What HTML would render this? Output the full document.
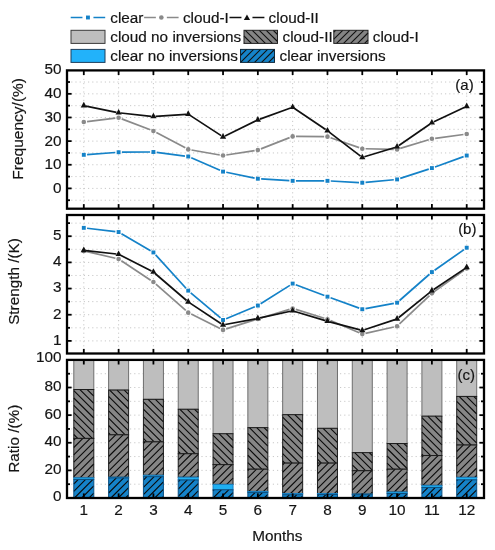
<!DOCTYPE html>
<html><head><meta charset="utf-8"><title>Monthly inversions</title>
<style>html,body{margin:0;padding:0;background:#fff}body{width:495px;height:550px;overflow:hidden}svg{display:block}</style>
</head><body>
<svg width="495" height="550" viewBox="0 0 495 550" font-family="Liberation Sans, Arial, sans-serif">
<rect width="495" height="550" fill="#fff"/>
<g stroke="#c9c9c9" stroke-width="1" stroke-dasharray="1.2 3.0" fill="none"><line x1="83.80" y1="70.4" x2="83.80" y2="208.7"/><line x1="118.61" y1="70.4" x2="118.61" y2="208.7"/><line x1="153.42" y1="70.4" x2="153.42" y2="208.7"/><line x1="188.23" y1="70.4" x2="188.23" y2="208.7"/><line x1="223.04" y1="70.4" x2="223.04" y2="208.7"/><line x1="257.85" y1="70.4" x2="257.85" y2="208.7"/><line x1="292.66" y1="70.4" x2="292.66" y2="208.7"/><line x1="327.47" y1="70.4" x2="327.47" y2="208.7"/><line x1="362.28" y1="70.4" x2="362.28" y2="208.7"/><line x1="397.09" y1="70.4" x2="397.09" y2="208.7"/><line x1="431.90" y1="70.4" x2="431.90" y2="208.7"/><line x1="466.71" y1="70.4" x2="466.71" y2="208.7"/><line x1="67.0" y1="200.22" x2="484.0" y2="200.22"/><line x1="67.0" y1="188.40" x2="484.0" y2="188.40"/><line x1="67.0" y1="176.58" x2="484.0" y2="176.58"/><line x1="67.0" y1="164.76" x2="484.0" y2="164.76"/><line x1="67.0" y1="152.94" x2="484.0" y2="152.94"/><line x1="67.0" y1="141.12" x2="484.0" y2="141.12"/><line x1="67.0" y1="129.30" x2="484.0" y2="129.30"/><line x1="67.0" y1="117.48" x2="484.0" y2="117.48"/><line x1="67.0" y1="105.66" x2="484.0" y2="105.66"/><line x1="67.0" y1="93.84" x2="484.0" y2="93.84"/><line x1="67.0" y1="82.02" x2="484.0" y2="82.02"/></g>
<path d="M87.08 121.57L115.33 118.12M121.69 118.89L150.34 129.78M156.34 132.50L185.31 147.85M191.48 149.97L219.79 154.97M226.30 155.03L254.59 150.61M260.92 148.89L289.59 137.60M295.96 136.41L324.17 136.61M330.59 137.71L359.16 147.60M365.58 148.75L393.79 149.33M400.25 148.43L428.74 139.72M435.17 138.31L463.44 134.47" stroke="#8a8a8a" stroke-width="1.7" fill="none"/>
<g fill="#8a8a8a"><circle cx="83.80" cy="121.97" r="2.3"/><circle cx="118.61" cy="117.72" r="2.3"/><circle cx="153.42" cy="130.95" r="2.3"/><circle cx="188.23" cy="149.39" r="2.3"/><circle cx="223.04" cy="155.54" r="2.3"/><circle cx="257.85" cy="150.10" r="2.3"/><circle cx="292.66" cy="136.39" r="2.3"/><circle cx="327.47" cy="136.63" r="2.3"/><circle cx="362.28" cy="148.68" r="2.3"/><circle cx="397.09" cy="149.39" r="2.3"/><circle cx="431.90" cy="138.76" r="2.3"/><circle cx="466.71" cy="134.03" r="2.3"/></g>
<path d="M87.09 154.59L115.32 152.48M121.91 152.21L150.12 152.02M156.69 152.42L184.96 156.06M191.26 157.80L220.01 170.30M226.27 172.27L254.62 178.05M261.14 178.91L289.37 180.63M295.96 180.84L324.17 180.84M330.77 181.01L358.98 182.55M365.57 182.41L393.80 179.73M400.23 178.39L428.76 169.09M435.00 166.95L463.61 156.66" stroke="#1482c8" stroke-width="1.7" fill="none"/>
<g fill="#1482c8"><rect x="81.85" y="152.88" width="3.9" height="3.9"/><rect x="116.66" y="150.28" width="3.9" height="3.9"/><rect x="151.47" y="150.04" width="3.9" height="3.9"/><rect x="186.28" y="154.54" width="3.9" height="3.9"/><rect x="221.09" y="169.67" width="3.9" height="3.9"/><rect x="255.90" y="176.76" width="3.9" height="3.9"/><rect x="290.71" y="178.89" width="3.9" height="3.9"/><rect x="325.52" y="178.89" width="3.9" height="3.9"/><rect x="360.33" y="180.78" width="3.9" height="3.9"/><rect x="395.14" y="177.47" width="3.9" height="3.9"/><rect x="429.95" y="166.12" width="3.9" height="3.9"/><rect x="464.76" y="153.59" width="3.9" height="3.9"/></g>
<path d="M85.96 106.10L116.45 112.31M120.80 112.99L151.23 116.30M155.61 116.39L186.04 114.32M190.07 115.37L221.20 135.66M225.02 135.90L255.87 120.81M259.92 119.10L290.59 108.06M294.49 108.54L325.64 129.49M329.22 132.06L360.53 156.09M364.38 156.79L394.99 147.44M398.90 145.54L430.09 123.93M433.89 121.75L464.72 107.30" stroke="#111" stroke-width="1.7" fill="none"/>
<g fill="#111"><path d="M83.80 101.86L86.90 107.46L80.70 107.46Z"/><path d="M118.61 108.95L121.71 114.55L115.51 114.55Z"/><path d="M153.42 112.73L156.52 118.33L150.32 118.33Z"/><path d="M188.23 110.37L191.33 115.97L185.13 115.97Z"/><path d="M223.04 133.06L226.14 138.66L219.94 138.66Z"/><path d="M257.85 116.04L260.95 121.64L254.75 121.64Z"/><path d="M292.66 103.51L295.76 109.11L289.56 109.11Z"/><path d="M327.47 126.92L330.57 132.52L324.37 132.52Z"/><path d="M362.28 153.63L365.38 159.23L359.18 159.23Z"/><path d="M397.09 142.99L400.19 148.59L393.99 148.59Z"/><path d="M431.90 118.88L435.00 124.48L428.80 124.48Z"/><path d="M466.71 102.57L469.81 108.17L463.61 108.17Z"/></g>
<g stroke="#000" stroke-width="1.8" fill="none"><line x1="67.0" y1="188.40" x2="71.6" y2="188.40"/><line x1="484.0" y1="188.40" x2="479.4" y2="188.40"/><line x1="67.0" y1="164.76" x2="71.6" y2="164.76"/><line x1="484.0" y1="164.76" x2="479.4" y2="164.76"/><line x1="67.0" y1="141.12" x2="71.6" y2="141.12"/><line x1="484.0" y1="141.12" x2="479.4" y2="141.12"/><line x1="67.0" y1="117.48" x2="71.6" y2="117.48"/><line x1="484.0" y1="117.48" x2="479.4" y2="117.48"/><line x1="67.0" y1="93.84" x2="71.6" y2="93.84"/><line x1="484.0" y1="93.84" x2="479.4" y2="93.84"/><line x1="67.0" y1="200.22" x2="70.0" y2="200.22"/><line x1="484.0" y1="200.22" x2="481.0" y2="200.22"/><line x1="67.0" y1="176.58" x2="70.0" y2="176.58"/><line x1="484.0" y1="176.58" x2="481.0" y2="176.58"/><line x1="67.0" y1="152.94" x2="70.0" y2="152.94"/><line x1="484.0" y1="152.94" x2="481.0" y2="152.94"/><line x1="67.0" y1="129.30" x2="70.0" y2="129.30"/><line x1="484.0" y1="129.30" x2="481.0" y2="129.30"/><line x1="67.0" y1="105.66" x2="70.0" y2="105.66"/><line x1="484.0" y1="105.66" x2="481.0" y2="105.66"/><line x1="67.0" y1="82.02" x2="70.0" y2="82.02"/><line x1="484.0" y1="82.02" x2="481.0" y2="82.02"/><line x1="83.80" y1="70.4" x2="83.80" y2="75.0"/><line x1="83.80" y1="208.7" x2="83.80" y2="204.1"/><line x1="118.61" y1="70.4" x2="118.61" y2="75.0"/><line x1="118.61" y1="208.7" x2="118.61" y2="204.1"/><line x1="153.42" y1="70.4" x2="153.42" y2="75.0"/><line x1="153.42" y1="208.7" x2="153.42" y2="204.1"/><line x1="188.23" y1="70.4" x2="188.23" y2="75.0"/><line x1="188.23" y1="208.7" x2="188.23" y2="204.1"/><line x1="223.04" y1="70.4" x2="223.04" y2="75.0"/><line x1="223.04" y1="208.7" x2="223.04" y2="204.1"/><line x1="257.85" y1="70.4" x2="257.85" y2="75.0"/><line x1="257.85" y1="208.7" x2="257.85" y2="204.1"/><line x1="292.66" y1="70.4" x2="292.66" y2="75.0"/><line x1="292.66" y1="208.7" x2="292.66" y2="204.1"/><line x1="327.47" y1="70.4" x2="327.47" y2="75.0"/><line x1="327.47" y1="208.7" x2="327.47" y2="204.1"/><line x1="362.28" y1="70.4" x2="362.28" y2="75.0"/><line x1="362.28" y1="208.7" x2="362.28" y2="204.1"/><line x1="397.09" y1="70.4" x2="397.09" y2="75.0"/><line x1="397.09" y1="208.7" x2="397.09" y2="204.1"/><line x1="431.90" y1="70.4" x2="431.90" y2="75.0"/><line x1="431.90" y1="208.7" x2="431.90" y2="204.1"/><line x1="466.71" y1="70.4" x2="466.71" y2="75.0"/><line x1="466.71" y1="208.7" x2="466.71" y2="204.1"/></g>
<rect x="67.0" y="70.4" width="417.0" height="138.29999999999998" fill="none" stroke="#000" stroke-width="2.3"/>
<g stroke="#c9c9c9" stroke-width="1" stroke-dasharray="1.2 3.0" fill="none"><line x1="83.80" y1="215.0" x2="83.80" y2="353.5"/><line x1="118.61" y1="215.0" x2="118.61" y2="353.5"/><line x1="153.42" y1="215.0" x2="153.42" y2="353.5"/><line x1="188.23" y1="215.0" x2="188.23" y2="353.5"/><line x1="223.04" y1="215.0" x2="223.04" y2="353.5"/><line x1="257.85" y1="215.0" x2="257.85" y2="353.5"/><line x1="292.66" y1="215.0" x2="292.66" y2="353.5"/><line x1="327.47" y1="215.0" x2="327.47" y2="353.5"/><line x1="362.28" y1="215.0" x2="362.28" y2="353.5"/><line x1="397.09" y1="215.0" x2="397.09" y2="353.5"/><line x1="431.90" y1="215.0" x2="431.90" y2="353.5"/><line x1="466.71" y1="215.0" x2="466.71" y2="353.5"/><line x1="67.0" y1="340.90" x2="484.0" y2="340.90"/><line x1="67.0" y1="327.81" x2="484.0" y2="327.81"/><line x1="67.0" y1="314.73" x2="484.0" y2="314.73"/><line x1="67.0" y1="301.64" x2="484.0" y2="301.64"/><line x1="67.0" y1="288.56" x2="484.0" y2="288.56"/><line x1="67.0" y1="275.47" x2="484.0" y2="275.47"/><line x1="67.0" y1="262.39" x2="484.0" y2="262.39"/><line x1="67.0" y1="249.30" x2="484.0" y2="249.30"/><line x1="67.0" y1="236.22" x2="484.0" y2="236.22"/><line x1="67.0" y1="223.13" x2="484.0" y2="223.13"/></g>
<path d="M87.01 251.62L115.40 258.24M121.36 260.81L150.67 280.20M155.90 284.20L185.75 310.46M191.19 314.10L220.08 328.44M226.19 328.91L254.70 319.91M261.01 317.97L289.50 309.40M295.81 309.42L324.32 318.21M330.50 320.48L359.25 332.80M365.50 333.37L393.87 326.97M399.49 323.98L429.50 295.54M434.59 291.35L464.02 270.33" stroke="#8a8a8a" stroke-width="1.7" fill="none"/>
<g fill="#8a8a8a"><circle cx="83.80" cy="250.88" r="2.3"/><circle cx="118.61" cy="258.99" r="2.3"/><circle cx="153.42" cy="282.02" r="2.3"/><circle cx="188.23" cy="312.64" r="2.3"/><circle cx="223.04" cy="329.91" r="2.3"/><circle cx="257.85" cy="318.92" r="2.3"/><circle cx="292.66" cy="308.45" r="2.3"/><circle cx="327.47" cy="319.18" r="2.3"/><circle cx="362.28" cy="334.10" r="2.3"/><circle cx="397.09" cy="326.24" r="2.3"/><circle cx="431.90" cy="293.27" r="2.3"/><circle cx="466.71" cy="268.41" r="2.3"/></g>
<path d="M87.08 228.24L115.33 231.64M121.46 233.70L150.57 250.78M155.64 254.88L186.01 288.21M190.75 292.78L220.52 317.84M226.09 318.70L254.80 306.83M260.64 303.81L289.87 285.35M295.75 284.75L324.38 295.51M330.57 297.79L359.18 308.11M365.52 308.62L393.85 303.30M399.57 300.51L429.42 274.25M434.60 270.18L464.01 249.63" stroke="#1482c8" stroke-width="1.7" fill="none"/>
<g fill="#1482c8"><rect x="81.85" y="225.90" width="3.9" height="3.9"/><rect x="116.66" y="230.08" width="3.9" height="3.9"/><rect x="151.47" y="250.50" width="3.9" height="3.9"/><rect x="186.28" y="288.70" width="3.9" height="3.9"/><rect x="221.09" y="318.01" width="3.9" height="3.9"/><rect x="255.90" y="303.62" width="3.9" height="3.9"/><rect x="290.71" y="281.64" width="3.9" height="3.9"/><rect x="325.52" y="294.72" width="3.9" height="3.9"/><rect x="360.33" y="307.28" width="3.9" height="3.9"/><rect x="395.14" y="300.74" width="3.9" height="3.9"/><rect x="429.95" y="270.12" width="3.9" height="3.9"/><rect x="464.76" y="245.78" width="3.9" height="3.9"/></g>
<path d="M85.99 250.60L116.42 254.03M120.57 255.28L151.46 271.07M155.09 273.50L186.56 300.48M190.06 303.12L221.21 323.72M225.20 324.53L255.69 318.80M260.00 317.93L290.51 311.27M294.77 311.44L325.36 320.64M329.60 321.83L360.15 329.87M364.37 329.74L395.00 319.61M398.80 317.53L430.19 292.04M433.73 289.43L464.88 268.59" stroke="#111" stroke-width="1.7" fill="none"/>
<g fill="#111"><path d="M83.80 246.55L86.90 252.15L80.70 252.15Z"/><path d="M118.61 250.48L121.71 256.08L115.51 256.08Z"/><path d="M153.42 268.27L156.52 273.87L150.32 273.87Z"/><path d="M188.23 298.11L191.33 303.71L185.13 303.71Z"/><path d="M223.04 321.14L226.14 326.74L219.94 326.74Z"/><path d="M257.85 314.59L260.95 320.19L254.75 320.19Z"/><path d="M292.66 307.00L295.76 312.60L289.56 312.60Z"/><path d="M327.47 317.47L330.57 323.07L324.37 323.07Z"/><path d="M362.28 326.63L365.38 332.23L359.18 332.23Z"/><path d="M397.09 315.12L400.19 320.72L393.99 320.72Z"/><path d="M431.90 286.85L435.00 292.45L428.80 292.45Z"/><path d="M466.71 263.56L469.81 269.16L463.61 269.16Z"/></g>
<g stroke="#000" stroke-width="1.8" fill="none"><line x1="67.0" y1="340.90" x2="71.6" y2="340.90"/><line x1="484.0" y1="340.90" x2="479.4" y2="340.90"/><line x1="67.0" y1="314.73" x2="71.6" y2="314.73"/><line x1="484.0" y1="314.73" x2="479.4" y2="314.73"/><line x1="67.0" y1="288.56" x2="71.6" y2="288.56"/><line x1="484.0" y1="288.56" x2="479.4" y2="288.56"/><line x1="67.0" y1="262.39" x2="71.6" y2="262.39"/><line x1="484.0" y1="262.39" x2="479.4" y2="262.39"/><line x1="67.0" y1="236.22" x2="71.6" y2="236.22"/><line x1="484.0" y1="236.22" x2="479.4" y2="236.22"/><line x1="67.0" y1="327.81" x2="70.0" y2="327.81"/><line x1="484.0" y1="327.81" x2="481.0" y2="327.81"/><line x1="67.0" y1="301.64" x2="70.0" y2="301.64"/><line x1="484.0" y1="301.64" x2="481.0" y2="301.64"/><line x1="67.0" y1="275.47" x2="70.0" y2="275.47"/><line x1="484.0" y1="275.47" x2="481.0" y2="275.47"/><line x1="67.0" y1="249.30" x2="70.0" y2="249.30"/><line x1="484.0" y1="249.30" x2="481.0" y2="249.30"/><line x1="67.0" y1="223.13" x2="70.0" y2="223.13"/><line x1="484.0" y1="223.13" x2="481.0" y2="223.13"/><line x1="83.80" y1="215.0" x2="83.80" y2="219.6"/><line x1="83.80" y1="353.5" x2="83.80" y2="348.9"/><line x1="118.61" y1="215.0" x2="118.61" y2="219.6"/><line x1="118.61" y1="353.5" x2="118.61" y2="348.9"/><line x1="153.42" y1="215.0" x2="153.42" y2="219.6"/><line x1="153.42" y1="353.5" x2="153.42" y2="348.9"/><line x1="188.23" y1="215.0" x2="188.23" y2="219.6"/><line x1="188.23" y1="353.5" x2="188.23" y2="348.9"/><line x1="223.04" y1="215.0" x2="223.04" y2="219.6"/><line x1="223.04" y1="353.5" x2="223.04" y2="348.9"/><line x1="257.85" y1="215.0" x2="257.85" y2="219.6"/><line x1="257.85" y1="353.5" x2="257.85" y2="348.9"/><line x1="292.66" y1="215.0" x2="292.66" y2="219.6"/><line x1="292.66" y1="353.5" x2="292.66" y2="348.9"/><line x1="327.47" y1="215.0" x2="327.47" y2="219.6"/><line x1="327.47" y1="353.5" x2="327.47" y2="348.9"/><line x1="362.28" y1="215.0" x2="362.28" y2="219.6"/><line x1="362.28" y1="353.5" x2="362.28" y2="348.9"/><line x1="397.09" y1="215.0" x2="397.09" y2="219.6"/><line x1="397.09" y1="353.5" x2="397.09" y2="348.9"/><line x1="431.90" y1="215.0" x2="431.90" y2="219.6"/><line x1="431.90" y1="353.5" x2="431.90" y2="348.9"/><line x1="466.71" y1="215.0" x2="466.71" y2="219.6"/><line x1="466.71" y1="353.5" x2="466.71" y2="348.9"/></g>
<rect x="67.0" y="215.0" width="417.0" height="138.5" fill="none" stroke="#000" stroke-width="2.3"/>
<g stroke="#c9c9c9" stroke-width="1" stroke-dasharray="1.2 3.0" fill="none"><line x1="83.80" y1="359.9" x2="83.80" y2="498.0"/><line x1="118.61" y1="359.9" x2="118.61" y2="498.0"/><line x1="153.42" y1="359.9" x2="153.42" y2="498.0"/><line x1="188.23" y1="359.9" x2="188.23" y2="498.0"/><line x1="223.04" y1="359.9" x2="223.04" y2="498.0"/><line x1="257.85" y1="359.9" x2="257.85" y2="498.0"/><line x1="292.66" y1="359.9" x2="292.66" y2="498.0"/><line x1="327.47" y1="359.9" x2="327.47" y2="498.0"/><line x1="362.28" y1="359.9" x2="362.28" y2="498.0"/><line x1="397.09" y1="359.9" x2="397.09" y2="498.0"/><line x1="431.90" y1="359.9" x2="431.90" y2="498.0"/><line x1="466.71" y1="359.9" x2="466.71" y2="498.0"/><line x1="67.0" y1="484.19" x2="484.0" y2="484.19"/><line x1="67.0" y1="470.38" x2="484.0" y2="470.38"/><line x1="67.0" y1="456.57" x2="484.0" y2="456.57"/><line x1="67.0" y1="442.76" x2="484.0" y2="442.76"/><line x1="67.0" y1="428.95" x2="484.0" y2="428.95"/><line x1="67.0" y1="415.14" x2="484.0" y2="415.14"/><line x1="67.0" y1="401.33" x2="484.0" y2="401.33"/><line x1="67.0" y1="387.52" x2="484.0" y2="387.52"/><line x1="67.0" y1="373.71" x2="484.0" y2="373.71"/></g>
<rect x="73.80" y="359.90" width="20.0" height="29.62" fill="#bebebe" stroke="#6e6e6e" stroke-width="1"/>
<rect x="73.80" y="389.52" width="20.0" height="48.89" fill="#868686" stroke="none" stroke-width="1"/>
<path d="M87.22 389.52L93.80 396.10M79.92 389.52L93.80 403.40M73.80 390.70L93.80 410.70M73.80 398.00L93.80 418.00M73.80 405.30L93.80 425.30M73.80 412.60L93.80 432.60M73.80 419.90L92.31 438.41M73.80 427.20L85.01 438.41M73.80 434.50L77.71 438.41" stroke="#0a0a0a" stroke-width="1.1" fill="none"/>
<rect x="73.80" y="389.52" width="20.0" height="48.89" fill="none" stroke="#1c1c1c" stroke-width="1"/>
<rect x="73.80" y="438.41" width="20.0" height="39.36" fill="#868686" stroke="none" stroke-width="1"/>
<path d="M73.80 440.20L75.59 438.41M73.80 447.50L82.89 438.41M73.80 454.80L90.19 438.41M73.80 462.10L93.80 442.10M73.80 469.40L93.80 449.40M73.80 476.70L93.80 456.70M80.03 477.77L93.80 464.00M87.33 477.77L93.80 471.30" stroke="#0a0a0a" stroke-width="1.1" fill="none"/>
<rect x="73.80" y="438.41" width="20.0" height="39.36" fill="none" stroke="#1c1c1c" stroke-width="1"/>
<rect x="73.80" y="477.77" width="20.0" height="1.66" fill="#20b0f2" stroke="#1a7fc0" stroke-width="1"/>
<rect x="73.80" y="479.43" width="20.0" height="18.57" fill="#1583c9" stroke="none" stroke-width="1"/>
<path d="M73.80 484.00L78.37 479.43M73.80 491.30L85.67 479.43M74.40 498.00L92.97 479.43M81.70 498.00L93.80 485.90M89.00 498.00L93.80 493.20" stroke="#0a0a0a" stroke-width="1.1" fill="none"/>
<rect x="73.80" y="479.43" width="20.0" height="18.57" fill="none" stroke="#0b4f80" stroke-width="1"/>
<rect x="108.61" y="359.90" width="20.0" height="30.17" fill="#bebebe" stroke="#6e6e6e" stroke-width="1"/>
<rect x="108.61" y="390.07" width="20.0" height="44.74" fill="#868686" stroke="none" stroke-width="1"/>
<path d="M124.27 390.07L128.61 394.41M116.97 390.07L128.61 401.71M109.67 390.07L128.61 409.01M108.61 396.31L128.61 416.31M108.61 403.61L128.61 423.61M108.61 410.91L128.61 430.91M108.61 418.21L125.22 434.82M108.61 425.51L117.92 434.82M108.61 432.81L110.62 434.82" stroke="#0a0a0a" stroke-width="1.1" fill="none"/>
<rect x="108.61" y="390.07" width="20.0" height="44.74" fill="none" stroke="#1c1c1c" stroke-width="1"/>
<rect x="108.61" y="434.82" width="20.0" height="42.40" fill="#868686" stroke="none" stroke-width="1"/>
<path d="M108.61 441.89L115.68 434.82M108.61 449.19L122.98 434.82M108.61 456.49L128.61 436.49M108.61 463.79L128.61 443.79M108.61 471.09L128.61 451.09M109.78 477.22L128.61 458.39M117.08 477.22L128.61 465.69M124.38 477.22L128.61 472.99" stroke="#0a0a0a" stroke-width="1.1" fill="none"/>
<rect x="108.61" y="434.82" width="20.0" height="42.40" fill="none" stroke="#1c1c1c" stroke-width="1"/>
<rect x="108.61" y="477.22" width="20.0" height="0.69" fill="#20b0f2" stroke="#1a7fc0" stroke-width="1"/>
<rect x="108.61" y="477.91" width="20.0" height="20.09" fill="#1583c9" stroke="none" stroke-width="1"/>
<path d="M108.61 478.39L109.09 477.91M108.61 485.69L116.39 477.91M108.61 492.99L123.69 477.91M110.90 498.00L128.61 480.29M118.20 498.00L128.61 487.59M125.50 498.00L128.61 494.89" stroke="#0a0a0a" stroke-width="1.1" fill="none"/>
<rect x="108.61" y="477.91" width="20.0" height="20.09" fill="none" stroke="#0b4f80" stroke-width="1"/>
<rect x="143.42" y="359.90" width="20.0" height="39.43" fill="#bebebe" stroke="#6e6e6e" stroke-width="1"/>
<rect x="143.42" y="399.33" width="20.0" height="42.53" fill="#868686" stroke="none" stroke-width="1"/>
<path d="M162.73 399.33L163.42 400.02M155.43 399.33L163.42 407.32M148.13 399.33L163.42 414.62M143.42 401.92L163.42 421.92M143.42 409.22L163.42 429.22M143.42 416.52L163.42 436.52M143.42 423.82L161.46 441.86M143.42 431.12L154.16 441.86M143.42 438.42L146.86 441.86" stroke="#0a0a0a" stroke-width="1.1" fill="none"/>
<rect x="143.42" y="399.33" width="20.0" height="42.53" fill="none" stroke="#1c1c1c" stroke-width="1"/>
<rect x="143.42" y="441.86" width="20.0" height="33.42" fill="#868686" stroke="none" stroke-width="1"/>
<path d="M143.42 443.58L145.14 441.86M143.42 450.88L152.44 441.86M143.42 458.18L159.74 441.86M143.42 465.48L163.42 445.48M143.42 472.78L163.42 452.78M148.22 475.28L163.42 460.08M155.52 475.28L163.42 467.38M162.82 475.28L163.42 474.68" stroke="#0a0a0a" stroke-width="1.1" fill="none"/>
<rect x="143.42" y="441.86" width="20.0" height="33.42" fill="none" stroke="#1c1c1c" stroke-width="1"/>
<rect x="143.42" y="475.28" width="20.0" height="1.38" fill="#20b0f2" stroke="#1a7fc0" stroke-width="1"/>
<rect x="143.42" y="476.66" width="20.0" height="21.34" fill="#1583c9" stroke="none" stroke-width="1"/>
<path d="M143.42 480.08L146.84 476.66M143.42 487.38L154.14 476.66M143.42 494.68L161.44 476.66M147.40 498.00L163.42 481.98M154.70 498.00L163.42 489.28M162.00 498.00L163.42 496.58" stroke="#0a0a0a" stroke-width="1.1" fill="none"/>
<rect x="143.42" y="476.66" width="20.0" height="21.34" fill="none" stroke="#0b4f80" stroke-width="1"/>
<rect x="178.23" y="359.90" width="20.0" height="49.37" fill="#bebebe" stroke="#6e6e6e" stroke-width="1"/>
<rect x="178.23" y="409.27" width="20.0" height="44.47" fill="#868686" stroke="none" stroke-width="1"/>
<path d="M194.57 409.27L198.23 412.93M187.27 409.27L198.23 420.23M179.97 409.27L198.23 427.53M178.23 414.83L198.23 434.83M178.23 422.13L198.23 442.13M178.23 429.43L198.23 449.43M178.23 436.73L195.24 453.74M178.23 444.03L187.94 453.74M178.23 451.33L180.64 453.74" stroke="#0a0a0a" stroke-width="1.1" fill="none"/>
<rect x="178.23" y="409.27" width="20.0" height="44.47" fill="none" stroke="#1c1c1c" stroke-width="1"/>
<rect x="178.23" y="453.74" width="20.0" height="23.48" fill="#868686" stroke="none" stroke-width="1"/>
<path d="M178.23 459.87L184.36 453.74M178.23 467.17L191.66 453.74M178.23 474.47L198.23 454.47M182.78 477.22L198.23 461.77M190.08 477.22L198.23 469.07M197.38 477.22L198.23 476.37" stroke="#0a0a0a" stroke-width="1.1" fill="none"/>
<rect x="178.23" y="453.74" width="20.0" height="23.48" fill="none" stroke="#1c1c1c" stroke-width="1"/>
<rect x="178.23" y="477.22" width="20.0" height="2.76" fill="#20b0f2" stroke="#1a7fc0" stroke-width="1"/>
<rect x="178.23" y="479.98" width="20.0" height="18.02" fill="#1583c9" stroke="none" stroke-width="1"/>
<path d="M178.23 481.77L180.02 479.98M178.23 489.07L187.32 479.98M178.23 496.37L194.62 479.98M183.90 498.00L198.23 483.67M191.20 498.00L198.23 490.97" stroke="#0a0a0a" stroke-width="1.1" fill="none"/>
<rect x="178.23" y="479.98" width="20.0" height="18.02" fill="none" stroke="#0b4f80" stroke-width="1"/>
<rect x="213.04" y="359.90" width="20.0" height="73.81" fill="#bebebe" stroke="#6e6e6e" stroke-width="1"/>
<rect x="213.04" y="433.71" width="20.0" height="30.93" fill="#868686" stroke="none" stroke-width="1"/>
<path d="M226.31 433.71L233.04 440.44M219.01 433.71L233.04 447.74M213.04 435.04L233.04 455.04M213.04 442.34L233.04 462.34M213.04 449.64L228.05 464.65M213.04 456.94L220.75 464.65M213.04 464.24L213.45 464.65" stroke="#0a0a0a" stroke-width="1.1" fill="none"/>
<rect x="213.04" y="433.71" width="20.0" height="30.93" fill="none" stroke="#1c1c1c" stroke-width="1"/>
<rect x="213.04" y="464.65" width="20.0" height="19.75" fill="#868686" stroke="none" stroke-width="1"/>
<path d="M213.04 468.86L217.25 464.65M213.04 476.16L224.55 464.65M213.04 483.46L231.85 464.65M219.40 484.40L233.04 470.76M226.70 484.40L233.04 478.06" stroke="#0a0a0a" stroke-width="1.1" fill="none"/>
<rect x="213.04" y="464.65" width="20.0" height="19.75" fill="none" stroke="#1c1c1c" stroke-width="1"/>
<rect x="213.04" y="484.40" width="20.0" height="5.39" fill="#20b0f2" stroke="#1a7fc0" stroke-width="1"/>
<rect x="213.04" y="489.78" width="20.0" height="8.22" fill="#1583c9" stroke="none" stroke-width="1"/>
<path d="M213.04 490.76L214.02 489.78M213.10 498.00L221.32 489.78M220.40 498.00L228.62 489.78M227.70 498.00L233.04 492.66" stroke="#0a0a0a" stroke-width="1.1" fill="none"/>
<rect x="213.04" y="489.78" width="20.0" height="8.22" fill="none" stroke="#0b4f80" stroke-width="1"/>
<rect x="247.85" y="359.90" width="20.0" height="67.74" fill="#bebebe" stroke="#6e6e6e" stroke-width="1"/>
<rect x="247.85" y="427.64" width="20.0" height="41.57" fill="#868686" stroke="none" stroke-width="1"/>
<path d="M264.04 427.64L267.85 431.45M256.74 427.64L267.85 438.75M249.44 427.64L267.85 446.05M247.85 433.35L267.85 453.35M247.85 440.65L267.85 460.65M247.85 447.95L267.85 467.95M247.85 455.25L261.81 469.21M247.85 462.55L254.51 469.21" stroke="#0a0a0a" stroke-width="1.1" fill="none"/>
<rect x="247.85" y="427.64" width="20.0" height="41.57" fill="none" stroke="#1c1c1c" stroke-width="1"/>
<rect x="247.85" y="469.21" width="20.0" height="22.23" fill="#868686" stroke="none" stroke-width="1"/>
<path d="M247.85 470.55L249.19 469.21M247.85 477.85L256.49 469.21M247.85 485.15L263.79 469.21M248.86 491.44L267.85 472.45M256.16 491.44L267.85 479.75M263.46 491.44L267.85 487.05" stroke="#0a0a0a" stroke-width="1.1" fill="none"/>
<rect x="247.85" y="469.21" width="20.0" height="22.23" fill="none" stroke="#1c1c1c" stroke-width="1"/>
<rect x="247.85" y="491.44" width="20.0" height="1.10" fill="#20b0f2" stroke="#1a7fc0" stroke-width="1"/>
<rect x="247.85" y="492.55" width="20.0" height="5.45" fill="#1583c9" stroke="none" stroke-width="1"/>
<path d="M249.60 498.00L255.05 492.55M256.90 498.00L262.35 492.55M264.20 498.00L267.85 494.35" stroke="#0a0a0a" stroke-width="1.1" fill="none"/>
<rect x="247.85" y="492.55" width="20.0" height="5.45" fill="none" stroke="#0b4f80" stroke-width="1"/>
<rect x="282.66" y="359.90" width="20.0" height="54.76" fill="#bebebe" stroke="#6e6e6e" stroke-width="1"/>
<rect x="282.66" y="414.66" width="20.0" height="48.47" fill="#868686" stroke="none" stroke-width="1"/>
<path d="M302.16 414.66L302.66 415.16M294.86 414.66L302.66 422.46M287.56 414.66L302.66 429.76M282.66 417.06L302.66 437.06M282.66 424.36L302.66 444.36M282.66 431.66L302.66 451.66M282.66 438.96L302.66 458.96M282.66 446.26L299.53 463.13M282.66 453.56L292.23 463.13M282.66 460.86L284.93 463.13" stroke="#0a0a0a" stroke-width="1.1" fill="none"/>
<rect x="282.66" y="414.66" width="20.0" height="48.47" fill="none" stroke="#1c1c1c" stroke-width="1"/>
<rect x="282.66" y="463.13" width="20.0" height="30.38" fill="#868686" stroke="none" stroke-width="1"/>
<path d="M282.66 464.94L284.47 463.13M282.66 472.24L291.77 463.13M282.66 479.54L299.07 463.13M282.66 486.84L302.66 466.84M283.29 493.51L302.66 474.14M290.59 493.51L302.66 481.44M297.89 493.51L302.66 488.74" stroke="#0a0a0a" stroke-width="1.1" fill="none"/>
<rect x="282.66" y="463.13" width="20.0" height="30.38" fill="none" stroke="#1c1c1c" stroke-width="1"/>
<rect x="282.66" y="493.51" width="20.0" height="1.24" fill="#20b0f2" stroke="#1a7fc0" stroke-width="1"/>
<rect x="282.66" y="494.75" width="20.0" height="3.25" fill="#1583c9" stroke="none" stroke-width="1"/>
<path d="M286.10 498.00L289.35 494.75M293.40 498.00L296.65 494.75M300.70 498.00L302.66 496.04" stroke="#0a0a0a" stroke-width="1.1" fill="none"/>
<rect x="282.66" y="494.75" width="20.0" height="3.25" fill="none" stroke="#0b4f80" stroke-width="1"/>
<rect x="317.47" y="359.90" width="20.0" height="68.43" fill="#bebebe" stroke="#6e6e6e" stroke-width="1"/>
<rect x="317.47" y="428.33" width="20.0" height="34.80" fill="#868686" stroke="none" stroke-width="1"/>
<path d="M330.43 428.33L337.47 435.37M323.13 428.33L337.47 442.67M317.47 429.97L337.47 449.97M317.47 437.27L337.47 457.27M317.47 444.57L336.03 463.13M317.47 451.87L328.73 463.13M317.47 459.17L321.43 463.13" stroke="#0a0a0a" stroke-width="1.1" fill="none"/>
<rect x="317.47" y="428.33" width="20.0" height="34.80" fill="none" stroke="#1c1c1c" stroke-width="1"/>
<rect x="317.47" y="463.13" width="20.0" height="30.38" fill="#868686" stroke="none" stroke-width="1"/>
<path d="M317.47 466.63L320.97 463.13M317.47 473.93L328.27 463.13M317.47 481.23L335.57 463.13M317.47 488.53L337.47 468.53M319.79 493.51L337.47 475.83M327.09 493.51L337.47 483.13M334.39 493.51L337.47 490.43" stroke="#0a0a0a" stroke-width="1.1" fill="none"/>
<rect x="317.47" y="463.13" width="20.0" height="30.38" fill="none" stroke="#1c1c1c" stroke-width="1"/>
<rect x="317.47" y="493.51" width="20.0" height="0.97" fill="#20b0f2" stroke="#1a7fc0" stroke-width="1"/>
<rect x="317.47" y="494.48" width="20.0" height="3.52" fill="#1583c9" stroke="none" stroke-width="1"/>
<path d="M317.47 495.83L318.82 494.48M322.60 498.00L326.12 494.48M329.90 498.00L333.42 494.48" stroke="#0a0a0a" stroke-width="1.1" fill="none"/>
<rect x="317.47" y="494.48" width="20.0" height="3.52" fill="none" stroke="#0b4f80" stroke-width="1"/>
<rect x="352.28" y="359.90" width="20.0" height="92.73" fill="#bebebe" stroke="#6e6e6e" stroke-width="1"/>
<rect x="352.28" y="452.63" width="20.0" height="18.09" fill="#868686" stroke="none" stroke-width="1"/>
<path d="M369.33 452.63L372.28 455.58M362.03 452.63L372.28 462.88M354.73 452.63L372.28 470.18M352.28 457.48L365.53 470.73M352.28 464.78L358.23 470.73" stroke="#0a0a0a" stroke-width="1.1" fill="none"/>
<rect x="352.28" y="452.63" width="20.0" height="18.09" fill="none" stroke="#1c1c1c" stroke-width="1"/>
<rect x="352.28" y="470.73" width="20.0" height="23.34" fill="#868686" stroke="none" stroke-width="1"/>
<path d="M352.28 475.62L357.17 470.73M352.28 482.92L364.47 470.73M352.28 490.22L371.77 470.73M355.74 494.06L372.28 477.52M363.04 494.06L372.28 484.82M370.34 494.06L372.28 492.12" stroke="#0a0a0a" stroke-width="1.1" fill="none"/>
<rect x="352.28" y="470.73" width="20.0" height="23.34" fill="none" stroke="#1c1c1c" stroke-width="1"/>
<rect x="352.28" y="494.06" width="20.0" height="0.69" fill="#20b0f2" stroke="#1a7fc0" stroke-width="1"/>
<rect x="352.28" y="494.75" width="20.0" height="3.25" fill="#1583c9" stroke="none" stroke-width="1"/>
<path d="M352.28 497.52L355.05 494.75M359.10 498.00L362.35 494.75M366.40 498.00L369.65 494.75" stroke="#0a0a0a" stroke-width="1.1" fill="none"/>
<rect x="352.28" y="494.75" width="20.0" height="3.25" fill="none" stroke="#0b4f80" stroke-width="1"/>
<rect x="387.09" y="359.90" width="20.0" height="83.62" fill="#bebebe" stroke="#6e6e6e" stroke-width="1"/>
<rect x="387.09" y="443.52" width="20.0" height="25.69" fill="#868686" stroke="none" stroke-width="1"/>
<path d="M404.02 443.52L407.09 446.59M396.72 443.52L407.09 453.89M389.42 443.52L407.09 461.19M387.09 448.49L407.09 468.49M387.09 455.79L400.51 469.21M387.09 463.09L393.21 469.21" stroke="#0a0a0a" stroke-width="1.1" fill="none"/>
<rect x="387.09" y="443.52" width="20.0" height="25.69" fill="none" stroke="#1c1c1c" stroke-width="1"/>
<rect x="387.09" y="469.21" width="20.0" height="22.79" fill="#868686" stroke="none" stroke-width="1"/>
<path d="M387.09 470.01L387.89 469.21M387.09 477.31L395.19 469.21M387.09 484.61L402.49 469.21M387.09 491.91L407.09 471.91M394.31 491.99L407.09 479.21M401.61 491.99L407.09 486.51" stroke="#0a0a0a" stroke-width="1.1" fill="none"/>
<rect x="387.09" y="469.21" width="20.0" height="22.79" fill="none" stroke="#1c1c1c" stroke-width="1"/>
<rect x="387.09" y="491.99" width="20.0" height="1.52" fill="#20b0f2" stroke="#1a7fc0" stroke-width="1"/>
<rect x="387.09" y="493.51" width="20.0" height="4.49" fill="#1583c9" stroke="none" stroke-width="1"/>
<path d="M388.30 498.00L392.79 493.51M395.60 498.00L400.09 493.51M402.90 498.00L407.09 493.81" stroke="#0a0a0a" stroke-width="1.1" fill="none"/>
<rect x="387.09" y="493.51" width="20.0" height="4.49" fill="none" stroke="#0b4f80" stroke-width="1"/>
<rect x="421.90" y="359.90" width="20.0" height="56.28" fill="#bebebe" stroke="#6e6e6e" stroke-width="1"/>
<rect x="421.90" y="416.18" width="20.0" height="39.36" fill="#868686" stroke="none" stroke-width="1"/>
<path d="M435.08 416.18L441.90 423.00M427.78 416.18L441.90 430.30M421.90 417.60L441.90 437.60M421.90 424.90L441.90 444.90M421.90 432.20L441.90 452.20M421.90 439.50L437.93 455.53M421.90 446.80L430.63 455.53M421.90 454.10L423.33 455.53" stroke="#0a0a0a" stroke-width="1.1" fill="none"/>
<rect x="421.90" y="416.18" width="20.0" height="39.36" fill="none" stroke="#1c1c1c" stroke-width="1"/>
<rect x="421.90" y="455.53" width="20.0" height="29.83" fill="#868686" stroke="none" stroke-width="1"/>
<path d="M421.90 457.10L423.47 455.53M421.90 464.40L430.77 455.53M421.90 471.70L438.07 455.53M421.90 479.00L441.90 459.00M422.84 485.36L441.90 466.30M430.14 485.36L441.90 473.60M437.44 485.36L441.90 480.90" stroke="#0a0a0a" stroke-width="1.1" fill="none"/>
<rect x="421.90" y="455.53" width="20.0" height="29.83" fill="none" stroke="#1c1c1c" stroke-width="1"/>
<rect x="421.90" y="485.36" width="20.0" height="2.07" fill="#20b0f2" stroke="#1a7fc0" stroke-width="1"/>
<rect x="421.90" y="487.44" width="20.0" height="10.56" fill="#1583c9" stroke="none" stroke-width="1"/>
<path d="M421.90 493.60L428.06 487.44M424.80 498.00L435.36 487.44M432.10 498.00L441.90 488.20M439.40 498.00L441.90 495.50" stroke="#0a0a0a" stroke-width="1.1" fill="none"/>
<rect x="421.90" y="487.44" width="20.0" height="10.56" fill="none" stroke="#0b4f80" stroke-width="1"/>
<rect x="456.71" y="359.90" width="20.0" height="36.53" fill="#bebebe" stroke="#6e6e6e" stroke-width="1"/>
<rect x="456.71" y="396.43" width="20.0" height="48.61" fill="#868686" stroke="none" stroke-width="1"/>
<path d="M473.73 396.43L476.71 399.41M466.43 396.43L476.71 406.71M459.13 396.43L476.71 414.01M456.71 401.31L476.71 421.31M456.71 408.61L476.71 428.61M456.71 415.91L476.71 435.91M456.71 423.21L476.71 443.21M456.71 430.51L471.24 445.04M456.71 437.81L463.94 445.04" stroke="#0a0a0a" stroke-width="1.1" fill="none"/>
<rect x="456.71" y="396.43" width="20.0" height="48.61" fill="none" stroke="#1c1c1c" stroke-width="1"/>
<rect x="456.71" y="445.04" width="20.0" height="32.32" fill="#868686" stroke="none" stroke-width="1"/>
<path d="M456.71 451.49L463.16 445.04M456.71 458.79L470.46 445.04M456.71 466.09L476.71 446.09M456.71 473.39L476.71 453.39M460.05 477.35L476.71 460.69M467.35 477.35L476.71 467.99M474.65 477.35L476.71 475.29" stroke="#0a0a0a" stroke-width="1.1" fill="none"/>
<rect x="456.71" y="445.04" width="20.0" height="32.32" fill="none" stroke="#1c1c1c" stroke-width="1"/>
<rect x="456.71" y="477.35" width="20.0" height="2.49" fill="#20b0f2" stroke="#1a7fc0" stroke-width="1"/>
<rect x="456.71" y="479.84" width="20.0" height="18.16" fill="#1583c9" stroke="none" stroke-width="1"/>
<path d="M456.71 480.69L457.56 479.84M456.71 487.99L464.86 479.84M456.71 495.29L472.16 479.84M461.30 498.00L476.71 482.59M468.60 498.00L476.71 489.89M475.90 498.00L476.71 497.19" stroke="#0a0a0a" stroke-width="1.1" fill="none"/>
<rect x="456.71" y="479.84" width="20.0" height="18.16" fill="none" stroke="#0b4f80" stroke-width="1"/>
<g stroke="#000" stroke-width="1.8" fill="none"><line x1="67.0" y1="470.38" x2="71.6" y2="470.38"/><line x1="484.0" y1="470.38" x2="479.4" y2="470.38"/><line x1="67.0" y1="442.76" x2="71.6" y2="442.76"/><line x1="484.0" y1="442.76" x2="479.4" y2="442.76"/><line x1="67.0" y1="415.14" x2="71.6" y2="415.14"/><line x1="484.0" y1="415.14" x2="479.4" y2="415.14"/><line x1="67.0" y1="387.52" x2="71.6" y2="387.52"/><line x1="484.0" y1="387.52" x2="479.4" y2="387.52"/><line x1="67.0" y1="484.19" x2="70.0" y2="484.19"/><line x1="484.0" y1="484.19" x2="481.0" y2="484.19"/><line x1="67.0" y1="456.57" x2="70.0" y2="456.57"/><line x1="484.0" y1="456.57" x2="481.0" y2="456.57"/><line x1="67.0" y1="428.95" x2="70.0" y2="428.95"/><line x1="484.0" y1="428.95" x2="481.0" y2="428.95"/><line x1="67.0" y1="401.33" x2="70.0" y2="401.33"/><line x1="484.0" y1="401.33" x2="481.0" y2="401.33"/><line x1="67.0" y1="373.71" x2="70.0" y2="373.71"/><line x1="484.0" y1="373.71" x2="481.0" y2="373.71"/><line x1="83.80" y1="359.9" x2="83.80" y2="364.5"/><line x1="83.80" y1="498.0" x2="83.80" y2="493.4"/><line x1="118.61" y1="359.9" x2="118.61" y2="364.5"/><line x1="118.61" y1="498.0" x2="118.61" y2="493.4"/><line x1="153.42" y1="359.9" x2="153.42" y2="364.5"/><line x1="153.42" y1="498.0" x2="153.42" y2="493.4"/><line x1="188.23" y1="359.9" x2="188.23" y2="364.5"/><line x1="188.23" y1="498.0" x2="188.23" y2="493.4"/><line x1="223.04" y1="359.9" x2="223.04" y2="364.5"/><line x1="223.04" y1="498.0" x2="223.04" y2="493.4"/><line x1="257.85" y1="359.9" x2="257.85" y2="364.5"/><line x1="257.85" y1="498.0" x2="257.85" y2="493.4"/><line x1="292.66" y1="359.9" x2="292.66" y2="364.5"/><line x1="292.66" y1="498.0" x2="292.66" y2="493.4"/><line x1="327.47" y1="359.9" x2="327.47" y2="364.5"/><line x1="327.47" y1="498.0" x2="327.47" y2="493.4"/><line x1="362.28" y1="359.9" x2="362.28" y2="364.5"/><line x1="362.28" y1="498.0" x2="362.28" y2="493.4"/><line x1="397.09" y1="359.9" x2="397.09" y2="364.5"/><line x1="397.09" y1="498.0" x2="397.09" y2="493.4"/><line x1="431.90" y1="359.9" x2="431.90" y2="364.5"/><line x1="431.90" y1="498.0" x2="431.90" y2="493.4"/><line x1="466.71" y1="359.9" x2="466.71" y2="364.5"/><line x1="466.71" y1="498.0" x2="466.71" y2="493.4"/></g>
<rect x="67.0" y="359.9" width="417.0" height="138.10000000000002" fill="none" stroke="#000" stroke-width="2.3"/>
<text x="61.6" y="192.8" font-size="15.3" fill="#141414" stroke="#141414" stroke-width="0.18" text-anchor="end" >0</text>
<text x="61.6" y="169.16" font-size="15.3" fill="#141414" stroke="#141414" stroke-width="0.18" text-anchor="end" >10</text>
<text x="61.6" y="145.52" font-size="15.3" fill="#141414" stroke="#141414" stroke-width="0.18" text-anchor="end" >20</text>
<text x="61.6" y="121.88000000000001" font-size="15.3" fill="#141414" stroke="#141414" stroke-width="0.18" text-anchor="end" >30</text>
<text x="61.6" y="98.24000000000001" font-size="15.3" fill="#141414" stroke="#141414" stroke-width="0.18" text-anchor="end" >40</text>
<text x="61.6" y="74.0" font-size="15.3" fill="#141414" stroke="#141414" stroke-width="0.18" text-anchor="end" >50</text>
<text x="61.6" y="344.79999999999995" font-size="15.3" fill="#141414" stroke="#141414" stroke-width="0.18" text-anchor="end" >1</text>
<text x="61.6" y="318.62999999999994" font-size="15.3" fill="#141414" stroke="#141414" stroke-width="0.18" text-anchor="end" >2</text>
<text x="61.6" y="292.4599999999999" font-size="15.3" fill="#141414" stroke="#141414" stroke-width="0.18" text-anchor="end" >3</text>
<text x="61.6" y="266.28999999999996" font-size="15.3" fill="#141414" stroke="#141414" stroke-width="0.18" text-anchor="end" >4</text>
<text x="61.6" y="240.11999999999998" font-size="15.3" fill="#141414" stroke="#141414" stroke-width="0.18" text-anchor="end" >5</text>
<text x="61.6" y="501.4" font-size="15.3" fill="#141414" stroke="#141414" stroke-width="0.18" text-anchor="end" >0</text>
<text x="61.6" y="473.78" font-size="15.3" fill="#141414" stroke="#141414" stroke-width="0.18" text-anchor="end" >20</text>
<text x="61.6" y="446.15999999999997" font-size="15.3" fill="#141414" stroke="#141414" stroke-width="0.18" text-anchor="end" >40</text>
<text x="61.6" y="418.53999999999996" font-size="15.3" fill="#141414" stroke="#141414" stroke-width="0.18" text-anchor="end" >60</text>
<text x="61.6" y="390.91999999999996" font-size="15.3" fill="#141414" stroke="#141414" stroke-width="0.18" text-anchor="end" >80</text>
<text x="61.6" y="362.3" font-size="15.3" fill="#141414" stroke="#141414" stroke-width="0.18" text-anchor="end" >100</text>
<text x="83.80" y="514.6" font-size="15.3" fill="#141414" stroke="#141414" stroke-width="0.18" text-anchor="middle" >1</text>
<text x="118.61" y="514.6" font-size="15.3" fill="#141414" stroke="#141414" stroke-width="0.18" text-anchor="middle" >2</text>
<text x="153.42" y="514.6" font-size="15.3" fill="#141414" stroke="#141414" stroke-width="0.18" text-anchor="middle" >3</text>
<text x="188.23" y="514.6" font-size="15.3" fill="#141414" stroke="#141414" stroke-width="0.18" text-anchor="middle" >4</text>
<text x="223.04" y="514.6" font-size="15.3" fill="#141414" stroke="#141414" stroke-width="0.18" text-anchor="middle" >5</text>
<text x="257.85" y="514.6" font-size="15.3" fill="#141414" stroke="#141414" stroke-width="0.18" text-anchor="middle" >6</text>
<text x="292.66" y="514.6" font-size="15.3" fill="#141414" stroke="#141414" stroke-width="0.18" text-anchor="middle" >7</text>
<text x="327.47" y="514.6" font-size="15.3" fill="#141414" stroke="#141414" stroke-width="0.18" text-anchor="middle" >8</text>
<text x="362.28" y="514.6" font-size="15.3" fill="#141414" stroke="#141414" stroke-width="0.18" text-anchor="middle" >9</text>
<text x="397.09" y="514.6" font-size="15.3" fill="#141414" stroke="#141414" stroke-width="0.18" text-anchor="middle" >10</text>
<text x="431.90" y="514.6" font-size="15.3" fill="#141414" stroke="#141414" stroke-width="0.18" text-anchor="middle" >11</text>
<text x="466.71" y="514.6" font-size="15.3" fill="#141414" stroke="#141414" stroke-width="0.18" text-anchor="middle" >12</text>
<text x="277.3" y="541.4" font-size="15.3" fill="#141414" stroke="#141414" stroke-width="0.18" text-anchor="middle" >Months</text>
<text transform="translate(22.8 128.8) rotate(-90)" font-size="15.5" fill="#141414" stroke="#141414" stroke-width="0.18" text-anchor="middle">Frequency/(%)</text>
<text transform="translate(19.0 281.5) rotate(-90)" font-size="15.3" fill="#141414" stroke="#141414" stroke-width="0.18" text-anchor="middle">Strength /(K)</text>
<text transform="translate(19.0 438.7) rotate(-90)" font-size="15.3" fill="#141414" stroke="#141414" stroke-width="0.18" text-anchor="middle">Ratio /(%)</text>
<rect x="455" y="76.5" width="20" height="16" fill="#fff"/>
<text x="464.5" y="89.5" font-size="15" fill="#141414" stroke="#141414" stroke-width="0.18" text-anchor="middle" >(a)</text>
<rect x="458" y="221.5" width="19" height="16" fill="#fff"/>
<text x="467.3" y="234.2" font-size="15" fill="#141414" stroke="#141414" stroke-width="0.18" text-anchor="middle" >(b)</text>
<text x="466.3" y="379.9" font-size="15" fill="#141414" stroke="#141414" stroke-width="0.18" text-anchor="middle" >(c)</text>
<path d="M70.7 17.5L82.45 17.5M93.45 17.5L105.2 17.5" stroke="#1482c8" stroke-width="1.7" fill="none"/>
<g fill="#1482c8"><rect x="86.00" y="15.55" width="3.9" height="3.9"/></g>
<text x="110.3" y="22.6" font-size="15.3" fill="#141414" stroke="#141414" stroke-width="0.18" text-anchor="start" >clear</text>
<path d="M144.1 17.5L155.85 17.5M166.85 17.5L178.6 17.5" stroke="#8a8a8a" stroke-width="1.7" fill="none"/>
<g fill="#8a8a8a"><circle cx="161.35" cy="17.50" r="2.3"/></g>
<text x="182.9" y="22.6" font-size="15.3" fill="#141414" stroke="#141414" stroke-width="0.18" text-anchor="start" >cloud-I</text>
<path d="M229.5 17.5L241.45 17.5M252.45 17.5L264.4 17.5" stroke="#111" stroke-width="1.7" fill="none"/>
<g fill="#111"><path d="M246.95 14.50L250.05 20.10L243.85 20.10Z"/></g>
<text x="268.6" y="22.6" font-size="15.3" fill="#141414" stroke="#141414" stroke-width="0.18" text-anchor="start" >cloud-II</text>
<rect x="71" y="30.3" width="34" height="13.099999999999998" fill="#bebebe" stroke="#3a3a3a" stroke-width="1"/>
<text x="110.3" y="41.9" font-size="15.3" fill="#141414" stroke="#141414" stroke-width="0.18" text-anchor="start" >cloud no inversions</text>
<rect x="244" y="30.3" width="33.5" height="13.099999999999998" fill="#848484" stroke="none" stroke-width="1"/>
<path d="M273.30 30.30L277.50 34.50M266.30 30.30L277.50 41.50M259.30 30.30L272.40 43.40M252.30 30.30L265.40 43.40M245.30 30.30L258.40 43.40M244.00 36.00L251.40 43.40M244.00 43.00L244.40 43.40" stroke="#111" stroke-width="1.1" fill="none"/>
<rect x="244" y="30.3" width="33.5" height="13.099999999999998" fill="none" stroke="#222" stroke-width="1"/>
<text x="282.5" y="41.9" font-size="15.3" fill="#141414" stroke="#141414" stroke-width="0.18" text-anchor="start" >cloud-II</text>
<rect x="333.8" y="30.3" width="34.19999999999999" height="13.099999999999998" fill="#848484" stroke="none" stroke-width="1"/>
<path d="M333.80 32.20L335.70 30.30M333.80 39.20L342.70 30.30M336.60 43.40L349.70 30.30M343.60 43.40L356.70 30.30M350.60 43.40L363.70 30.30M357.60 43.40L368.00 33.00M364.60 43.40L368.00 40.00" stroke="#111" stroke-width="1.1" fill="none"/>
<rect x="333.8" y="30.3" width="34.19999999999999" height="13.099999999999998" fill="none" stroke="#222" stroke-width="1"/>
<text x="372.8" y="41.9" font-size="15.3" fill="#141414" stroke="#141414" stroke-width="0.18" text-anchor="start" >cloud-I</text>
<rect x="71" y="49.4" width="34" height="13.0" fill="#22b2fa" stroke="#1d3f5c" stroke-width="1"/>
<text x="110.3" y="60.8" font-size="15.3" fill="#141414" stroke="#141414" stroke-width="0.18" text-anchor="start" >clear no inversions</text>
<rect x="240.5" y="49.4" width="34.0" height="13.0" fill="#1583c9" stroke="none" stroke-width="1"/>
<path d="M240.50 55.50L246.60 49.40M240.60 62.40L253.60 49.40M247.60 62.40L260.60 49.40M254.60 62.40L267.60 49.40M261.60 62.40L274.50 49.50M268.60 62.40L274.50 56.50" stroke="#111" stroke-width="1.1" fill="none"/>
<rect x="240.5" y="49.4" width="34.0" height="13.0" fill="none" stroke="#10283a" stroke-width="1"/>
<text x="279.5" y="60.8" font-size="15.3" fill="#141414" stroke="#141414" stroke-width="0.18" text-anchor="start" >clear inversions</text>
</svg>
</body></html>
